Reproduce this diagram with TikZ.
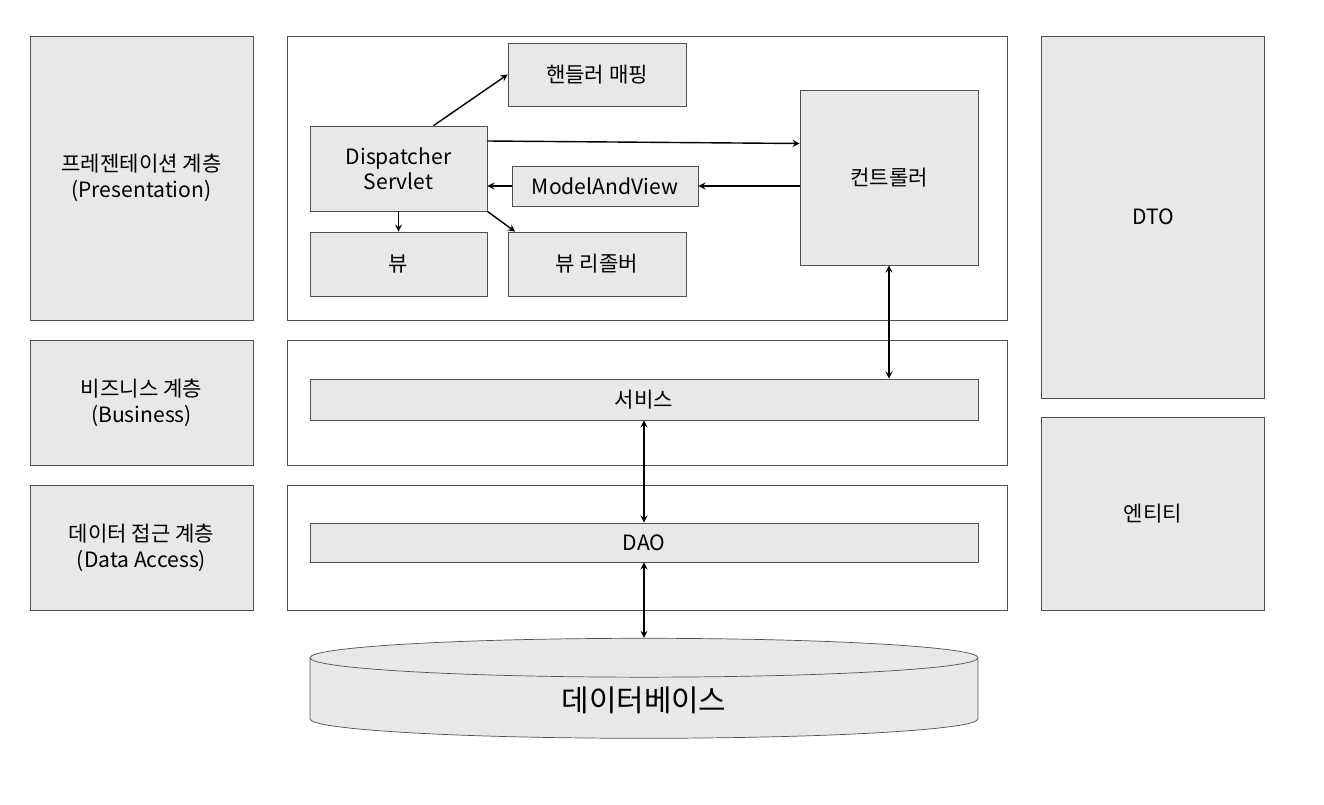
\documentclass[tikz,border=0pt]{standalone}
\usepackage{fontspec}
\setmainfont{Noto Sans CJK KR}
\usetikzlibrary{shapes.geometric}
\definecolor{boxgray}{HTML}{E8E8E8}
\definecolor{linegray}{HTML}{505050}
\def \framex {12.94}
\def \framew {14.4}
\tikzstyle{layer}=[draw=linegray, fill=boxgray, minimum width=4.46cm, align=center, font=\fontsize{12}{15}\selectfont]
\tikzstyle{frame}=[draw=linegray, fill=white, minimum width=\framew cm]
\tikzstyle{part}=[draw=linegray, fill=boxgray, align=center, font=\fontsize{12}{14}\selectfont]
\tikzstyle{link}=[->, >=stealth, thick]
\tikzstyle{both}=[<->, >=stealth, thick]

\begin{document}
\begin{tikzpicture}
\useasboundingbox (0,0) rectangle (26.48,-16.08);

\node[layer, minimum height=5.68cm] (P) at (2.83, -3.56) {프레젠테이션 계층\\(Presentation)};
\node[layer, minimum height=2.5cm] (B) at (2.83, -8.05) {비즈니스 계층\\(Business)};
\node[layer, minimum height=2.5cm] (D) at (2.83, -10.95) {데이터 접근 계층\\(Data Access)};

\node[frame, minimum height=5.68cm] (FP) at (\framex, -3.56) {};
\node[frame, minimum height=2.5cm] (FB) at (\framex, -8.05) {};
\node[frame, minimum height=2.5cm] (FD) at (\framex, -10.95) {};

\node[part, minimum width=3.56cm, minimum height=1.26cm] (hm) at (11.94, -1.49) {핸들러 매핑};
\node[part, minimum width=3.54cm, minimum height=1.7cm] (ds) at (7.97, -3.37) {Dispatcher\\Servlet};
\node[part, minimum width=3.72cm, minimum height=0.8cm] (mav) at (12.1, -3.72) {ModelAndView};
\node[part, minimum width=3.56cm, minimum height=3.5cm] (ctl) at (17.78, -3.55) {컨트롤러};
\node[part, minimum width=3.54cm, minimum height=1.28cm] (view) at (7.97, -5.28) {뷰};
\node[part, minimum width=3.56cm, minimum height=1.28cm] (vr) at (11.94, -5.28) {뷰 리졸버};

\node[part, minimum width=13.36cm, minimum height=0.82cm] (svc) at (12.88, -7.99) {서비스};
\node[part, minimum width=13.36cm, minimum height=0.78cm] (dao) at (12.88, -10.85) {DAO};
\node[part, cylinder, shape border rotate=90, aspect=0.22, minimum width=13.36cm, minimum height=2.0cm, font=\fontsize{17}{20}\selectfont] (db) at (12.88, -14.0) {데이터베이스};

\node[layer, minimum height=7.24cm] (dto) at (23.06, -4.34) {DTO};
\node[layer, minimum height=3.86cm] (ent) at (23.06, -10.27) {엔티티};

% request flow
\draw[link] ([xshift=0.7cm]ds.north) -- (hm.west);
\draw[link] ([yshift=0.55cm]ds.east) -- ([yshift=0.68cm]ctl.west);
\draw[link] ([yshift=-0.17cm]ctl.west) -- (mav.east);
\draw[link] (mav.west) -- ([yshift=-0.35cm]ds.east);
\draw[link] (ds.south) -- (view.north);
\draw[link] (ds.south east) -- ([xshift=0.15cm]vr.north west);

% layers
\draw[both] (ctl.south) -- (svc.north -| ctl.south);
\draw[both] (svc.south) -- (dao.north);
\draw[both] (dao.south) -- (db.north);

\end{tikzpicture}
\end{document}
